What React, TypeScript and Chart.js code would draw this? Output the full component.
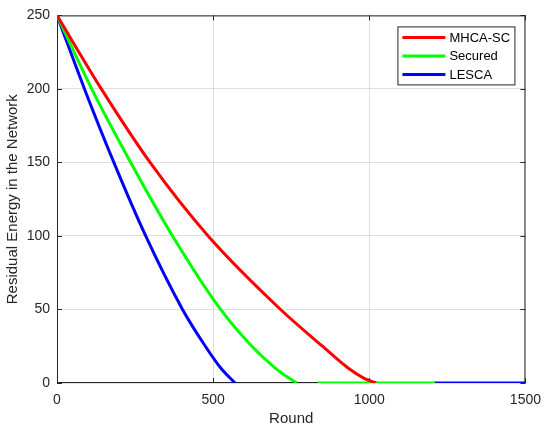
import { useEffect, useRef } from "react"
import { Chart, registerables } from "chart.js"

Chart.register(...registerables)

const seriesLabels = ["MHCA-SC", "Secured", "LESCA"]
const seriesColors = ["#ff0000", "#00ff00", "#0000ff"]

// rodadas e energia residual
const redRounds = [0, 142, 298, 484, 716, 850, 933, 985, 1022]
const redEnergy = [250, 200, 150, 100, 50, 25, 10, 3, 0]

const greenRounds = [0, 111, 236, 370, 524, 624, 700, 745, 768, 800, 835, 1210]
const greenEnergy = [250, 200, 150, 100, 50, 25, 10, 3, 0, null, 0, 0]

const blueRounds = [0, 88, 182, 284, 402, 475, 525, 570, 900, 1209, 1500]
const blueEnergy = [250, 200, 150, 100, 50, 25, 10, 0, null, 0, 0]

const xTicks = [0, 500, 1000, 1500]
const yTicks = [0, 50, 100, 150, 200, 250]

const FONT = "'Liberation Sans', Arial, Helvetica, sans-serif"
const AXIS = "#262626"

function toPoints(xs: number[], ys: (number | null)[]) {
  return xs.map((x, i) => ({ x, y: ys[i] }))
}

const boxPlugin = {
  id: "matlabBox",
  beforeDatasetsDraw(chart: any) {
    const { ctx, chartArea: a, scales } = chart
    ctx.save()
    ctx.strokeStyle = AXIS
    ctx.lineWidth = 1
    ctx.strokeRect(a.left + 0.5, a.top + 0.5, a.right - a.left - 1, a.bottom - a.top - 1)
    const len = 5
    ctx.beginPath()
    xTicks.forEach((v) => {
      const px = Math.round(scales.x.getPixelForValue(v)) + 0.5
      ctx.moveTo(px, a.bottom)
      ctx.lineTo(px, a.bottom - len)
      ctx.moveTo(px, a.top)
      ctx.lineTo(px, a.top + len)
    })
    yTicks.forEach((v) => {
      const py = Math.round(scales.y.getPixelForValue(v)) + 0.5
      ctx.moveTo(a.left, py)
      ctx.lineTo(a.left + len, py)
      ctx.moveTo(a.right, py)
      ctx.lineTo(a.right - len, py)
    })
    ctx.stroke()
    ctx.restore()
  },
  afterDraw(chart: any) {
    const { ctx, chartArea: a } = chart
    const w = 117
    const h = 58
    const left = a.right - 11 - w
    const top = a.top + 11
    ctx.save()
    ctx.fillStyle = "#ffffff"
    ctx.fillRect(left, top, w, h)
    ctx.strokeStyle = AXIS
    ctx.lineWidth = 1
    ctx.strokeRect(left + 0.5, top + 0.5, w, h)
    ctx.font = `13px ${FONT}`
    ctx.textBaseline = "middle"
    chart.data.datasets.forEach((ds: any, i: number) => {
      const y = top + 11 + i * 18.5
      ctx.strokeStyle = ds.borderColor
      ctx.lineWidth = 3
      ctx.beginPath()
      ctx.moveTo(left + 5, y)
      ctx.lineTo(left + 48, y)
      ctx.stroke()
      ctx.fillStyle = "#000000"
      ctx.fillText(ds.label, left + 52, y + 1)
    })
    ctx.restore()
  },
}

export default function App() {
  const chartRef = useRef<HTMLCanvasElement>(null)
  const chartInstance = useRef<Chart | null>(null)

  useEffect(() => {
    if (!chartRef.current) return
    if (chartInstance.current) chartInstance.current.destroy()
    const ctx = chartRef.current.getContext("2d")
    if (!ctx) return

    const data = [
      toPoints(redRounds, redEnergy),
      toPoints(greenRounds, greenEnergy),
      toPoints(blueRounds, blueEnergy),
    ]

    chartInstance.current = new Chart(ctx, {
      type: "line",
      data: {
        datasets: seriesLabels.map((label, i) => ({
          label,
          data: data[i] as any,
          borderColor: seriesColors[i],
          backgroundColor: seriesColors[i],
          borderWidth: 3,
          pointRadius: 0,
          cubicInterpolationMode: "monotone" as const,
          spanGaps: false,
          fill: false,
        })),
      },
      options: {
        animation: false,
        responsive: true,
        maintainAspectRatio: false,
        layout: { padding: { top: 11, right: 22, left: 0, bottom: 0 } },
        plugins: {
          legend: { display: false },
          tooltip: { enabled: false },
        },
        scales: {
          x: {
            type: "linear",
            min: 0,
            max: 1500,
            afterBuildTicks: (s: any) => {
              s.ticks = xTicks.map((value) => ({ value }))
            },
            afterFit: (s: any) => {
              s.height = 49
            },
            grid: { color: "rgba(38,38,38,0.15)", drawTicks: false },
            border: { display: false },
            ticks: {
              color: AXIS,
              padding: 9,
              maxRotation: 0,
              font: { family: FONT, size: 14 },
              callback: (value: any) => String(value),
            },
            title: {
              display: true,
              text: "Round",
              color: AXIS,
              padding: { top: 0, bottom: 4 },
              font: { family: FONT, size: 15 },
            },
          },
          y: {
            type: "linear",
            min: 0,
            max: 250,
            afterBuildTicks: (s: any) => {
              s.ticks = yTicks.map((value) => ({ value }))
            },
            afterFit: (s: any) => {
              s.width = 57
            },
            grid: { color: "rgba(38,38,38,0.15)", drawTicks: false },
            border: { display: false },
            ticks: {
              color: AXIS,
              padding: 7,
              font: { family: FONT, size: 14 },
              callback: (value: any) => String(value),
            },
            title: {
              display: true,
              text: "Residual Energy in the Network",
              color: AXIS,
              padding: { top: 4, bottom: 0 },
              font: { family: FONT, size: 15 },
            },
          },
        },
      },
      plugins: [boxPlugin],
    })

    return () => {
      if (chartInstance.current) {
        chartInstance.current.destroy()
        chartInstance.current = null
      }
    }
  }, [])

  return (
    <div style={{ position: "fixed", left: 0, top: 0, width: 550, height: 432, background: "#fff" }}>
      <canvas ref={chartRef} />
    </div>
  )
}
